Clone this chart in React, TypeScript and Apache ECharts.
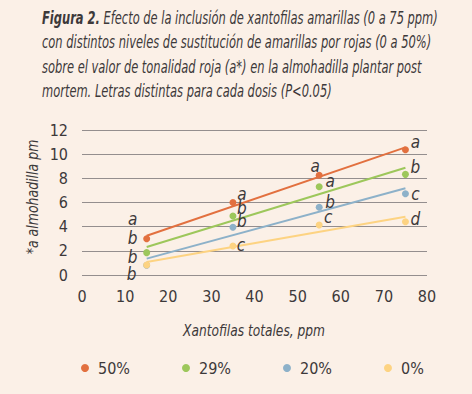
import React, { useEffect, useRef } from "react";
import * as echarts from "echarts";

const X_VALUES = [15, 35, 55, 75];
const SERIES_NAMES = ["50%", "29%", "20%", "0%"];
const VALUES_50 = [3.0, 6.0, 8.25, 10.37];
const VALUES_29 = [1.85, 4.88, 7.31, 8.33];
const VALUES_20 = [0.8, 3.95, 5.6, 6.73];
const VALUES_0 = [0.83, 2.4, 4.14, 4.41];
const LETTERS_50 = ["a", "a", "a", "a"];
const LETTERS_29 = ["b", "b", "a", "b"];
const LETTERS_20 = ["b", "b", "b", "c"];
const LETTERS_0 = ["b", "c", "c", "d"];
const X_TICKS = [0, 10, 20, 30, 40, 50, 60, 70, 80];
const Y_TICKS = [0, 2, 4, 6, 8, 10, 12];
const TITLE_BOLD = "Figura 2.";
const TITLE_LINES = [
  " Efecto de la inclusión de xantofilas amarillas (0 a 75 ppm)",
  "con distintos niveles de sustitución de amarillas por rojas (0 a 50%)",
  "sobre el valor de tonalidad roja (a*) en la almohadilla plantar post",
  "mortem. Letras distintas para cada dosis (P<0.05)",
];
const X_NAME = "Xantofilas totales, ppm";
const Y_NAME = "*a almohadilla pm";

// styling (not data)
const COLORS = ["#e2703f", "#9dc75b", "#8db1c9", "#fdd382"];
const LABEL_OFFSETS = [
  [[-14, -20], [9, -9], [-4, -9], [10, -8]],
  [[-14, -15], [9, -8], [11, -6], [10, -7]],
  [[-14, -8], [9, -6], [11, -5], [10, 0]],
  [[-15, 9], [8, -1], [9, -8], [10, -3]],
];
const FONT = "'DejaVu Sans Condensed', 'DejaVu Sans', sans-serif";
const TEXT = "#3d393a";
const BG = "#fbf0e7";

function regression(xs: number[], ys: number[]) {
  const n = xs.length;
  const mx = xs.reduce((a, b) => a + b, 0) / n;
  const my = ys.reduce((a, b) => a + b, 0) / n;
  let sxy = 0, sxx = 0;
  for (let i = 0; i < n; i++) {
    sxy += (xs[i] - mx) * (ys[i] - my);
    sxx += (xs[i] - mx) * (xs[i] - mx);
  }
  const slope = sxy / sxx;
  return (x: number) => my + slope * (x - mx);
}

export default function App() {
  const ref = useRef<HTMLDivElement>(null);
  useEffect(() => {
    document.body.style.margin = "0";
    const chart = echarts.init(ref.current!, undefined, { renderer: "svg" });
    const allValues = [VALUES_50, VALUES_29, VALUES_20, VALUES_0];
    const allLetters = [LETTERS_50, LETTERS_29, LETTERS_20, LETTERS_0];
    const series: any[] = [];
    allValues.forEach((vals, si) => {
      const f = regression(X_VALUES, vals);
      const xMin = X_VALUES[0];
      const xMax = X_VALUES[X_VALUES.length - 1];
      series.push({
        type: "line",
        name: SERIES_NAMES[si] + " trend",
        data: [[xMin, f(xMin)], [xMax, f(xMax)]],
        symbol: "none",
        lineStyle: { color: COLORS[si], width: 2 },
        silent: true,
        z: 2,
      });
    });
    allValues.forEach((vals, si) => {
      series.push({
        type: "scatter",
        name: SERIES_NAMES[si],
        symbolSize: 7,
        itemStyle: { color: COLORS[si], opacity: 1 },
        z: 3,
        data: vals.map((v, i) => ({
          value: [X_VALUES[i], v],
          label: {
            show: true,
            position: "inside",
            formatter: allLetters[si][i],
            offset: LABEL_OFFSETS[si][i],
            color: TEXT,
            fontFamily: FONT,
            fontStyle: "italic",
            fontSize: 17,
            align: "center",
            verticalAlign: "middle",
          },
        })),
      });
    });

    const lineH = 24.6;
    const titleElems: any[] = TITLE_LINES.map((line, i) => ({
      type: "text",
      x: 42,
      y: 18 + i * lineH,
      scaleX: 0.75,
      style: {
        text: i === 0 ? "{b|" + TITLE_BOLD + "}" + line : line,
        fill: TEXT,
        font: `italic 17px ${FONT}`,
        align: "left",
        verticalAlign: "middle",
        rich: {
          b: { fontWeight: "bold", fontStyle: "italic", fontSize: 17, fontFamily: FONT, fill: TEXT },
        },
      },
    }));

    chart.setOption({
      animation: false,
      backgroundColor: BG,
      grid: { left: 82, right: 45, top: 130, bottom: 119, containLabel: false },
      xAxis: {
        type: "value",
        min: X_TICKS[0],
        max: X_TICKS[X_TICKS.length - 1],
        interval: X_TICKS[1] - X_TICKS[0],
        axisLine: { show: false },
        axisTick: { show: false },
        splitLine: { show: false },
        axisLabel: { color: TEXT, fontFamily: FONT, fontSize: 16, margin: 13 },
      },
      yAxis: {
        type: "value",
        min: Y_TICKS[0],
        max: Y_TICKS[Y_TICKS.length - 1],
        interval: Y_TICKS[1] - Y_TICKS[0],
        axisLine: { show: false },
        axisTick: { show: false },
        splitLine: { show: true, lineStyle: { color: "#948e8e", width: 1 } },
        axisLabel: { color: TEXT, fontFamily: FONT, fontSize: 16, margin: 14 },
      },
      legend: {
        data: SERIES_NAMES.map((n) => ({ name: n, icon: "circle" })),
        left: 76,
        top: 355,
        itemWidth: 8,
        itemHeight: 8,
        itemGap: 52,
        textStyle: { color: TEXT, fontFamily: FONT, fontSize: 16, padding: [0, 0, 0, 4] },
      },
      graphic: [
        ...titleElems,
        {
          type: "text",
          x: 254,
          y: 330,
          scaleX: 0.85,
          style: {
            text: X_NAME,
            fill: TEXT,
            font: `italic 16px ${FONT}`,
            align: "center",
            verticalAlign: "middle",
          },
        },
        {
          type: "text",
          x: 33,
          y: 197,
          rotation: Math.PI / 2,
          scaleX: 0.87,
          style: {
            text: Y_NAME,
            fill: TEXT,
            font: `italic 16px ${FONT}`,
            align: "center",
            verticalAlign: "middle",
          },
        },
      ],
      series,
    });
    return () => chart.dispose();
  }, []);
  return (
    <div
      ref={ref}
      style={{ position: "fixed", left: 0, top: 0, width: 472, height: 394 }}
    />
  );
}
